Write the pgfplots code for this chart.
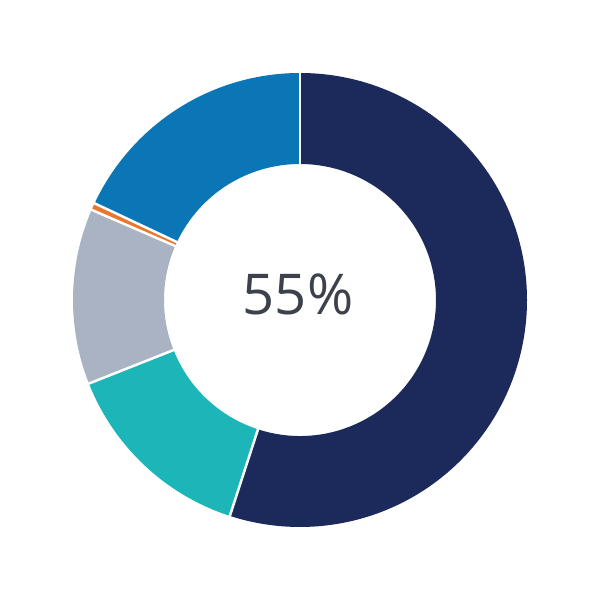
\documentclass[border=0pt]{standalone}
\usepackage{pgfplots}
\usepackage{pgfplotstable}
\usepackage{fontspec}
\setmainfont{Open Sans}
\pgfplotsset{compat=1.18}

\definecolor{navy}{HTML}{1B2A5A}
\definecolor{sea}{HTML}{1CB5B8}
\definecolor{slate}{HTML}{A9B3C3}
\definecolor{flame}{HTML}{E8762D}
\definecolor{ocean}{HTML}{0A76B5}
\definecolor{label}{HTML}{3C414C}

% share of each slice in percent, clockwise from 12 o'clock
\pgfplotstableread{
share col
55.0  navy
14.0  sea
12.5  slate
0.5   flame
18.0  ocean
}\shares

\begin{document}
\begin{tikzpicture}
\begin{axis}[
    hide axis,
    x=1cm, y=1cm,
    xmin=-6, xmax=6,
    ymin=-6, ymax=6,
    clip=false,
]
\path (axis cs:-6,-6) rectangle (axis cs:6,6);
\def\Rout{4.54}
\def\Rin{2.72}
\pgfplotstablegetrowsof{\shares}
\pgfmathtruncatemacro\last{\pgfplotsretval-1}
% slices
\def\cum{0}
\pgfplotsforeachungrouped \i in {0,...,\last}{
    \pgfplotstablegetelem{\i}{share}\of\shares \let\sh\pgfplotsretval
    \pgfplotstablegetelem{\i}{col}\of\shares \let\cl\pgfplotsretval
    \pgfmathsetmacro\aone{90-3.6*\cum}
    \pgfmathsetmacro\atwo{90-3.6*(\cum+\sh)}
    \pgfmathsetmacro\cum{\cum+\sh}
    \pgfmathsetmacro\xa{\Rout*cos(\aone)}
    \pgfmathsetmacro\ya{\Rout*sin(\aone)}
    \pgfmathsetmacro\xb{\Rin*cos(\atwo)}
    \pgfmathsetmacro\yb{\Rin*sin(\atwo)}
    \edef\temp{\noexpand\fill[\cl] (axis cs:\xa,\ya)
        arc[start angle=\aone, end angle=\atwo, radius=\Rout]
        -- (axis cs:\xb,\yb)
        arc[start angle=\atwo, end angle=\aone, radius=\Rin] -- cycle;}
    \temp
}
% white gaps between slices
\def\cum{0}
\pgfplotsforeachungrouped \i in {0,...,\last}{
    \pgfplotstablegetelem{\i}{share}\of\shares \let\sh\pgfplotsretval
    \pgfmathsetmacro\aone{90-3.6*\cum}
    \pgfmathsetmacro\cum{\cum+\sh}
    \pgfmathsetmacro\xa{(\Rout+0.1)*cos(\aone)}
    \pgfmathsetmacro\ya{(\Rout+0.1)*sin(\aone)}
    \pgfmathsetmacro\xb{(\Rin-0.1)*cos(\aone)}
    \pgfmathsetmacro\yb{(\Rin-0.1)*sin(\aone)}
    \edef\temp{\noexpand\draw[white, line width=0.05cm] (axis cs:\xb,\yb) -- (axis cs:\xa,\ya);}
    \temp
}
\node[anchor=base, text=label, inner sep=0pt] at (axis cs:-0.04,-0.3)
    {\fontsize{32}{38}\selectfont 55\%};
\end{axis}
\end{tikzpicture}
\end{document}
